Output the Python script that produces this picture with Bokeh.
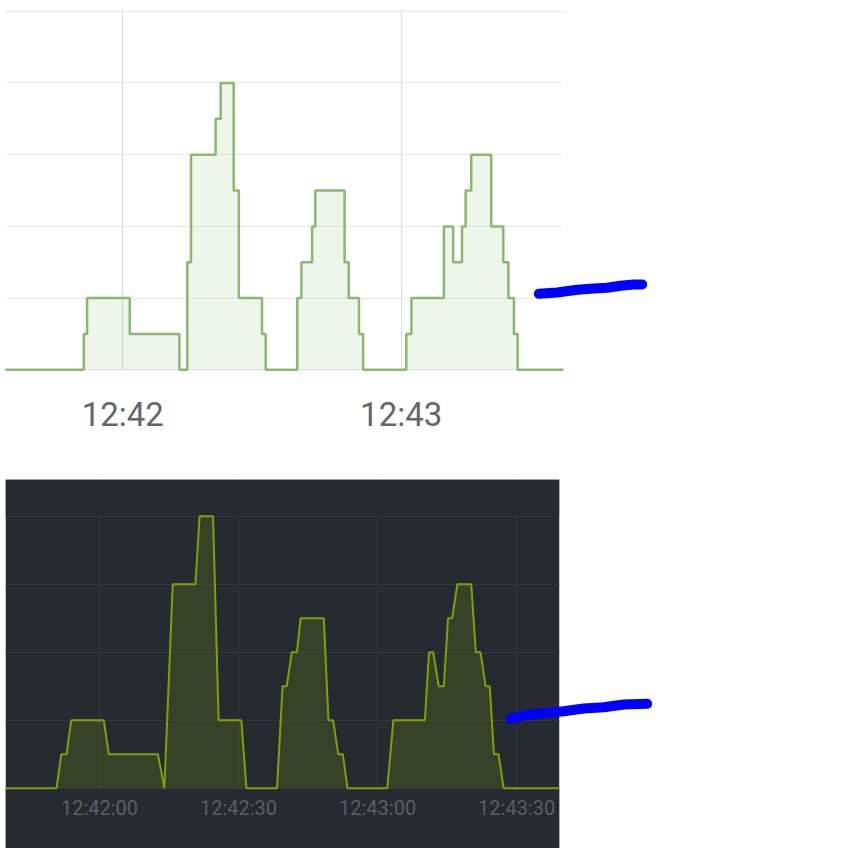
import pandas as pd
from bokeh.plotting import figure
from bokeh.layouts import column
from bokeh.models import Range1d, FixedTicker, DatetimeTickFormatter, BoxAnnotation
from bokeh.embed import file_html
from bokeh.resources import INLINE

DAY = "2018-01-01"
ORIGIN = "12:42:00"

# ---- upper chart (stepped series): time of each change (s after 12:42:00) and value after it
top_t = [-26.0, -8.4, -7.7, 1.5, 12.2, 13.9, 14.7, 20.0, 21.1, 23.9, 25.0, 30.0, 30.8,
         37.6, 38.5, 40.8, 41.5, 47.8, 48.7, 50.9, 51.8,
         61.1, 62.2, 69.2, 71.2, 73.1, 73.9, 75.1, 79.4, 82.0, 83.1, 84.3, 85.1, 94.98]
top_v = [0, 0.5, 1, 0.5, 0, 1.5, 3, 3.5, 4, 2.5, 1, 0.5, 0,
         1, 1.5, 2, 2.5, 1.5, 1, 0.5, 0,
         0.5, 1, 2, 1.5, 2, 2.5, 3, 2, 1.5, 1, 0.5, 0, 0]
top_tick_labels = ["12:41", "12:42", "12:43", "12:44"]
top_value_ticks = [0, 1, 2, 3, 4, 5]

# ---- lower chart (linear series)
bot_t = [-21.0, -9.26, -8.25, -7.1, -6.1, 0.93, 2.0, 12.6, 14.0, 15.8, 20.7, 21.6, 24.5, 25.7, 30.6, 31.7,
         38.3, 39.5, 40.4, 41.5, 42.6, 43.4, 48.4, 49.4, 50.4, 51.5, 52.5, 53.5,
         62.1, 63.4, 70.2, 71.1, 72.0, 73.2, 74.3, 75.2, 76.1, 77.2, 80.2, 81.2, 82.2, 83.3,
         84.2, 85.1, 86.1, 87.2, 99.25]
bot_v = [0, 0, 0.5, 0.5, 1, 1, 0.5, 0.5, 0, 3, 3, 4, 4, 1, 1, 0,
         0, 1.5, 1.5, 2, 2, 2.5, 2.5, 1, 1, 0.5, 0.5, 0,
         0, 1, 1, 2, 2, 1.5, 1.5, 2.5, 2.5, 3, 3, 2, 2, 1.5,
         1.5, 0.5, 0.5, 0, 0]
bot_tick_labels = ["12:42:00", "12:42:30", "12:43:00", "12:43:30"]
bot_value_ticks = [0, 1, 2, 3, 4]

# ---- hand-drawn blue marks (time s, value)
top_mark_t = [89.66, 93.62, 97.93, 101.5, 104.4, 107.26, 110.13, 111.94]
top_mark_v = [1.06, 1.078, 1.116, 1.134, 1.144, 1.172, 1.19, 1.19]
bot_mark_t = [88.67, 91.54, 95.86, 100.17, 104.49, 108.8, 113.12, 118.17]
bot_mark_v = [1.02, 1.069, 1.103, 1.132, 1.172, 1.191, 1.231, 1.241]

BASE_MS = pd.Timestamp(f"{DAY} {ORIGIN}").value / 1e6


def ms(s):
    return BASE_MS + s * 1000.0


def tick_ms(labels):
    return [pd.Timestamp(f"{DAY} {lab}").value / 1e6 for lab in labels]


def fmt(f):
    return DatetimeTickFormatter(milliseconds=f, seconds=f, minsec=f, minutes=f,
                                 hourmin=f, hours=f, days=f, months=f, years=f)


# ================= upper chart =================
TOP_GREEN = "#8ab872"
p1 = figure(frame_width=655, frame_height=362, x_axis_type="datetime",
            x_range=Range1d(ms(-25.28), ms(115.884)), y_range=Range1d(-0.0237, 5.025),
            toolbar_location=None, output_backend="svg", y_axis_location=None,
            min_border_left=5, min_border_right=0, min_border_top=9, min_border_bottom=108,
            background_fill_color="white", border_fill_color="white", outline_line_color=None)
tk1 = FixedTicker(ticks=tick_ms(top_tick_labels))
p1.xaxis.ticker = tk1
p1.xgrid.ticker = tk1
p1.ygrid.ticker = FixedTicker(ticks=top_value_ticks)
p1.xgrid.grid_line_color = "#dcdcdc"
p1.ygrid.grid_line_color = "#e6e6e6"
p1.xgrid.grid_line_width = 1.2
p1.ygrid.grid_line_width = 1.2
p1.xaxis.formatter = fmt("%H:%M")
p1.xaxis.axis_line_color = None
p1.xaxis.major_tick_line_color = None
p1.xaxis.minor_tick_line_color = None
p1.xaxis.major_tick_out = 0
p1.xaxis.major_tick_in = 0
p1.xaxis.major_label_standoff = 23
p1.xaxis.major_label_text_font = "Roboto"
p1.xaxis.major_label_text_font_size = "33px"
p1.xaxis.major_label_text_color = "#666666"

p1.add_layout(BoxAnnotation(left=ms(top_t[-1]), fill_color="white", fill_alpha=1.0,
                            line_alpha=0, level="underlay"))
p1.varea_step(x=[ms(t) for t in top_t], y1=[0] * len(top_v), y2=top_v, step_mode="after",
              fill_color=TOP_GREEN, fill_alpha=0.14)
p1.step(x=[ms(t) for t in top_t], y=top_v, mode="after", line_color=TOP_GREEN, line_width=2.5)
p1.line(x=[ms(t) for t in top_mark_t], y=top_mark_v, line_color="#0000ff", line_width=10,
        line_cap="round", line_join="round")

# ================= lower chart =================
DARK = "#272a30"
OLIVE = "#7da30c"
p2 = figure(frame_width=655, frame_height=369, x_axis_type="datetime",
            x_range=Range1d(ms(-20.28), ms(121.04)), y_range=Range1d(-0.887, 4.54),
            toolbar_location=None, output_backend="svg", y_axis_location=None,
            min_border_left=5, min_border_right=0, min_border_top=0, min_border_bottom=0,
            background_fill_color="white", border_fill_color="white", outline_line_color=None)
tk2 = FixedTicker(ticks=tick_ms(bot_tick_labels))
p2.xaxis.ticker = tk2
p2.xgrid.ticker = tk2
p2.ygrid.ticker = FixedTicker(ticks=bot_value_ticks)
p2.xgrid.grid_line_color = "#32373b"
p2.ygrid.grid_line_color = "#32373b"
p2.xaxis.fixed_location = 0
p2.xaxis.formatter = fmt("%H:%M:%S")
p2.xaxis.axis_line_color = None
p2.xaxis.major_tick_line_color = None
p2.xaxis.minor_tick_line_color = None
p2.xaxis.major_tick_out = 0
p2.xaxis.major_tick_in = 0
p2.xaxis.major_label_standoff = 8
p2.xaxis.major_label_text_font = "Roboto"
p2.xaxis.major_label_text_font_size = "20px"
p2.xaxis.major_label_text_color = "#5b5f64"

# dark panel behind the grid, ending where the series ends
p2.add_layout(BoxAnnotation(right=ms(bot_t[-1]), fill_color=DARK, fill_alpha=1.0,
                            line_alpha=0, level="image"))
# keep vertical grid between value 0 and the top grid line, and hide grid right of the panel
p2.add_layout(BoxAnnotation(top=-0.02, right=ms(bot_t[-1]), fill_color=DARK, fill_alpha=1.0,
                            line_alpha=0, level="underlay"))
p2.add_layout(BoxAnnotation(bottom=max(bot_value_ticks) + 0.02, right=ms(bot_t[-1]), fill_color=DARK,
                            fill_alpha=1.0, line_alpha=0, level="underlay"))
p2.add_layout(BoxAnnotation(left=ms(bot_t[-1]), fill_color="white", fill_alpha=1.0,
                            line_alpha=0, level="underlay"))
p2.varea(x=[ms(t) for t in bot_t], y1=[0] * len(bot_v), y2=bot_v, fill_color=OLIVE, fill_alpha=0.2)
p2.line(x=[ms(t) for t in bot_t], y=bot_v, line_color=OLIVE, line_width=2)
p2.line(x=[ms(t) for t in bot_mark_t], y=bot_mark_v, line_color="#0000ff", line_width=10,
        line_cap="round", line_join="round")

layout = column(p1, p2, spacing=0)
open("out.html", "w").write(file_html(layout, INLINE))
